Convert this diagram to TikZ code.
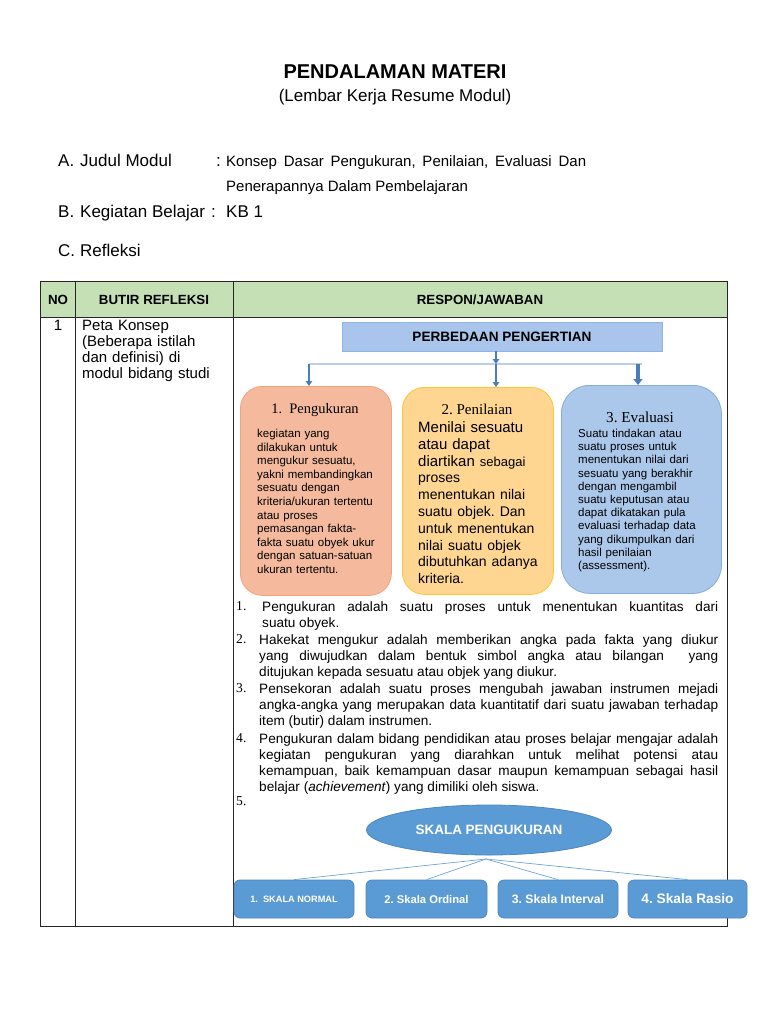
\documentclass[tikz,border=0pt]{standalone}
\usepackage{fontspec}
\setmainfont{Liberation Sans}
\newfontfamily\ttlserif{Liberation Serif}
\usepackage{xcolor}
\usepackage{tikz}
\usetikzlibrary{shapes.geometric, arrows.meta, calc}
\frenchspacing

\newcommand\fsz[2]{\fontsize{#1}{#2}\selectfont}

\definecolor{headgreen}{HTML}{C5E0B4}
\definecolor{perfill}{HTML}{A9C5EB}
\definecolor{perline}{HTML}{8DB4E2}
\definecolor{salmon}{HTML}{F5BA9E}
\definecolor{salmonline}{HTML}{F3A27A}
\definecolor{peach}{HTML}{FED591}
\definecolor{peachline}{HTML}{FFC52E}
\definecolor{sky}{HTML}{ABC7EA}
\definecolor{skyline}{HTML}{85ADDF}
\definecolor{barblue}{HTML}{B8D0EE}
\definecolor{panahblue}{HTML}{4A7EBB}
\definecolor{skalablue}{HTML}{5B9BD5}
\definecolor{skalaline}{HTML}{4F87C2}
\definecolor{garisblue}{HTML}{6FA3D8}

\tikzset{
  txt/.style={inner sep=0pt, anchor=base west},
  lbl/.style={txt, font=\fsz{17}{20}},
  para/.style={inner sep=0pt, anchor=north west, align=left},
  tabline/.style={line width=1pt, black!85},
  konsep/.style={line width=0.8pt, rounded corners=22pt, anchor=north west, inner sep=0pt},
  ttl/.style={inner sep=0pt, anchor=base},
  panah/.style={panahblue, line width=2.3pt, -{Triangle[length=5pt, width=6.5pt]}},
  butir/.style={para, align=justify, font=\fsz{13.6}{16.3}},
  nomor/.style={txt, font=\ttlserif\fsz{13.6}{16}},
  skalabox/.style={draw=skalaline, fill=skalablue, line width=0.8pt, rounded corners=6pt,
    minimum height=38pt, inner sep=0pt, text=white},
}

\begin{document}
\begin{tikzpicture}[x=1pt, y=-1pt]
\useasboundingbox (0,0) rectangle (768,1024);

% judul
\node[ttl, font=\bfseries\fsz{20}{24}] (judul) at (395,79) {PENDALAMAN MATERI};
\node[ttl, font=\fsz{17}{20}] (subjudul) at (395,102) {(Lembar Kerja Resume Modul)};

\node[lbl] (hurufA) at (58,167) {A.};
\node[lbl] (labelA) at (80,167) {Judul Modul};
\node[lbl] (titikA) at (216,167) {:};
\node[para, text width=360pt, align=justify, font=\fsz{15}{25}] (isiA) at (226,155.5)
  {Konsep Dasar Pengukuran, Penilaian, Evaluasi Dan\linebreak Penerapannya Dalam Pembelajaran};
\node[lbl] (hurufB) at (58,218) {B.};
\node[lbl] (labelB) at (80,218) {Kegiatan Belajar};
\node[lbl] (titikB) at (211,218) {:};
\node[lbl] (isiB) at (226,218) {KB 1};
\node[lbl] (hurufC) at (58,256) {C.};
\node[lbl] (labelC) at (80,256) {Refleksi};

% tabel
\coordinate (tl) at (40,281);
\coordinate (br) at (727,926);
\fill[headgreen] (tl) rectangle (727,317);
\draw[tabline] (tl) rectangle (br);
\draw[tabline] (40,317) -- (727,317);
\foreach \x in {75.5,233.5} \draw[tabline] (\x,281) -- (\x,926);

\node[ttl, font=\bfseries\fsz{13.3}{16}] (hNo) at (58,304) {NO};
\node[ttl, font=\bfseries\fsz{13.3}{16}] (hButir) at (154,304) {BUTIR REFLEKSI};
\node[ttl, font=\bfseries\fsz{13.3}{16}] (hRespon) at (480,304) {RESPON/JAWABAN};
\node[ttl, font=\fsz{15}{16}] (no1) at (58,330) {1};
\node[para, text width=150pt, font=\fsz{15}{16}] (butir1) at (82,319.5)
  {Peta Konsep\\(Beberapa istilah\\dan definisi) di\\modul bidang studi};

% peta konsep
\node[draw=perline, fill=perfill, line width=0.8pt, minimum width=320pt, minimum height=29pt,
  inner sep=0pt, font=\bfseries\fsz{13.6}{16}] (beda) at (502,336.5) {PERBEDAAN PENGERTIAN};

\node[konsep, draw=salmonline, fill=salmon, minimum width=151pt, minimum height=209pt] (ukur) at (240,386) {};
\node[konsep, draw=peachline, fill=peach, minimum width=151pt, minimum height=207pt] (nilai) at (402,387) {};
\node[konsep, draw=skyline, fill=sky, minimum width=160pt, minimum height=208pt, rounded corners=28pt] (eval) at (561,385) {};

\coordinate (simpul) at (496,364);
\coordinate (cabangL) at (309,364);
\coordinate (cabangR) at (638,364);
\draw[barblue, line width=2.5pt] (cabangL) -- ($(cabangR)+(4,0)$);
\draw[panah] (simpul |- beda.south) -- (simpul);
\draw[panah] (simpul) -- (simpul |- nilai.north);
\draw[panah] (cabangL) -- (cabangL |- ukur.north);
\draw[panah, line width=3.6pt, -{Triangle[length=6pt, width=9pt]}] (cabangR) -- (cabangR |- eval.north);

\node[ttl, font=\ttlserif\fsz{14.5}{17}] (ukurJ) at (315,413) {1.\ \ Pengukuran};
\node[ttl, font=\ttlserif\fsz{15}{17}] (nilaiJ) at (477,414) {2. Penilaian};
\node[ttl, font=\ttlserif\fsz{15.2}{17}] (evalJ) at (640,422) {3. Evaluasi};

\node[para, text width=132pt, font=\fsz{11.5}{13.6}] (ukurT) at (257,429)
  {kegiatan yang\\dilakukan untuk\\mengukur sesuatu,\\yakni membandingkan\\sesuatu dengan\\kriteria/ukuran tertentu\\atau proses\\pemasangan fakta-\\fakta suatu obyek ukur\\dengan satuan-satuan\\ukuran tertentu.};
\node[para, text width=134pt, font=\fsz{15}{16.8}] (nilaiT) at (418,421.5)
  {Menilai sesuatu\\atau dapat\\diartikan {\fsz{13}{16.8}sebagai}\\{\fsz{14}{16.8}proses\\menentukan nilai\\suatu objek. Dan\\untuk menentukan\\nilai suatu objek\\dibutuhkan adanya\\kriteria.}};
\node[para, text width=138pt, font=\fsz{11.5}{13.2}] (evalT) at (578,429)
  {Suatu tindakan atau\\suatu proses untuk\\menentukan nilai dari\\sesuatu yang berakhir\\dengan mengambil\\suatu keputusan atau\\dapat dikatakan pula\\evaluasi terhadap data\\yang dikumpulkan dari\\hasil penilaian\\(assessment).};

% daftar
\node[nomor] (nomor1) at (236,610.5) {1.};
\node[butir, text width=456pt] (item1) at (262,601)
  {Pengukuran adalah suatu proses untuk menentukan kuantitas dari\linebreak suatu obyek.};
\node[nomor] (nomor2) at (236,643.5) {2.};
\node[butir, text width=459pt] (item2) at (259,634)
  {Hakekat mengukur adalah memberikan angka pada fakta yang diukur\linebreak yang diwujudkan dalam bentuk simbol angka atau bilangan\hspace{14pt} yang\linebreak ditujukan kepada sesuatu atau objek yang diukur.};
\node[nomor] (nomor3) at (236,692.5) {3.};
\node[butir, text width=459pt] (item3) at (259,683)
  {Pensekoran adalah suatu proses mengubah jawaban instrumen mejadi\linebreak angka-angka yang merupakan data kuantitatif dari suatu jawaban terhadap\linebreak item (butir) dalam instrumen.};
\node[nomor] (nomor4) at (236,742.5) {4.};
\node[butir, text width=459pt] (item4) at (259,733)
  {Pengukuran dalam bidang pendidikan atau proses belajar mengajar adalah\linebreak kegiatan pengukuran yang diarahkan untuk melihat potensi atau\linebreak kemampuan, baik kemampuan dasar maupun kemampuan sebagai hasil\linebreak belajar (\textit{achievement}) yang dimiliki oleh siswa.};
\node[nomor] (nomor5) at (236,805.5) {5.};

% skala pengukuran
\node[ellipse, draw=skalaline, fill=skalablue, line width=0.8pt, minimum width=245pt, minimum height=50pt,
  inner sep=0pt, text=white, font=\bfseries\fsz{13.5}{16}] (skala) at (489,830) {SKALA PENGUKURAN};
\node[skalabox, minimum width=120pt, font=\bfseries\fsz{9.2}{11}] (sk1) at (294,899) {1.\ \ SKALA NORMAL};
\node[skalabox, minimum width=121pt, font=\bfseries\fsz{11.2}{13}] (sk2) at (426.5,899) {2. Skala Ordinal};
\node[skalabox, minimum width=120pt, font=\bfseries\fsz{12.2}{14}] (sk3) at (558,899) {3. Skala Interval};
\node[skalabox, minimum width=119pt, font=\bfseries\fsz{13.7}{16}] (sk4) at (687.5,899) {4. Skala Rasio};
\coordinate (pusat) at (486,859);
\foreach \k in {sk1,sk2,sk3,sk4} \draw[garisblue, line width=0.7pt] (pusat) -- (\k.north);
\end{tikzpicture}
\end{document}
